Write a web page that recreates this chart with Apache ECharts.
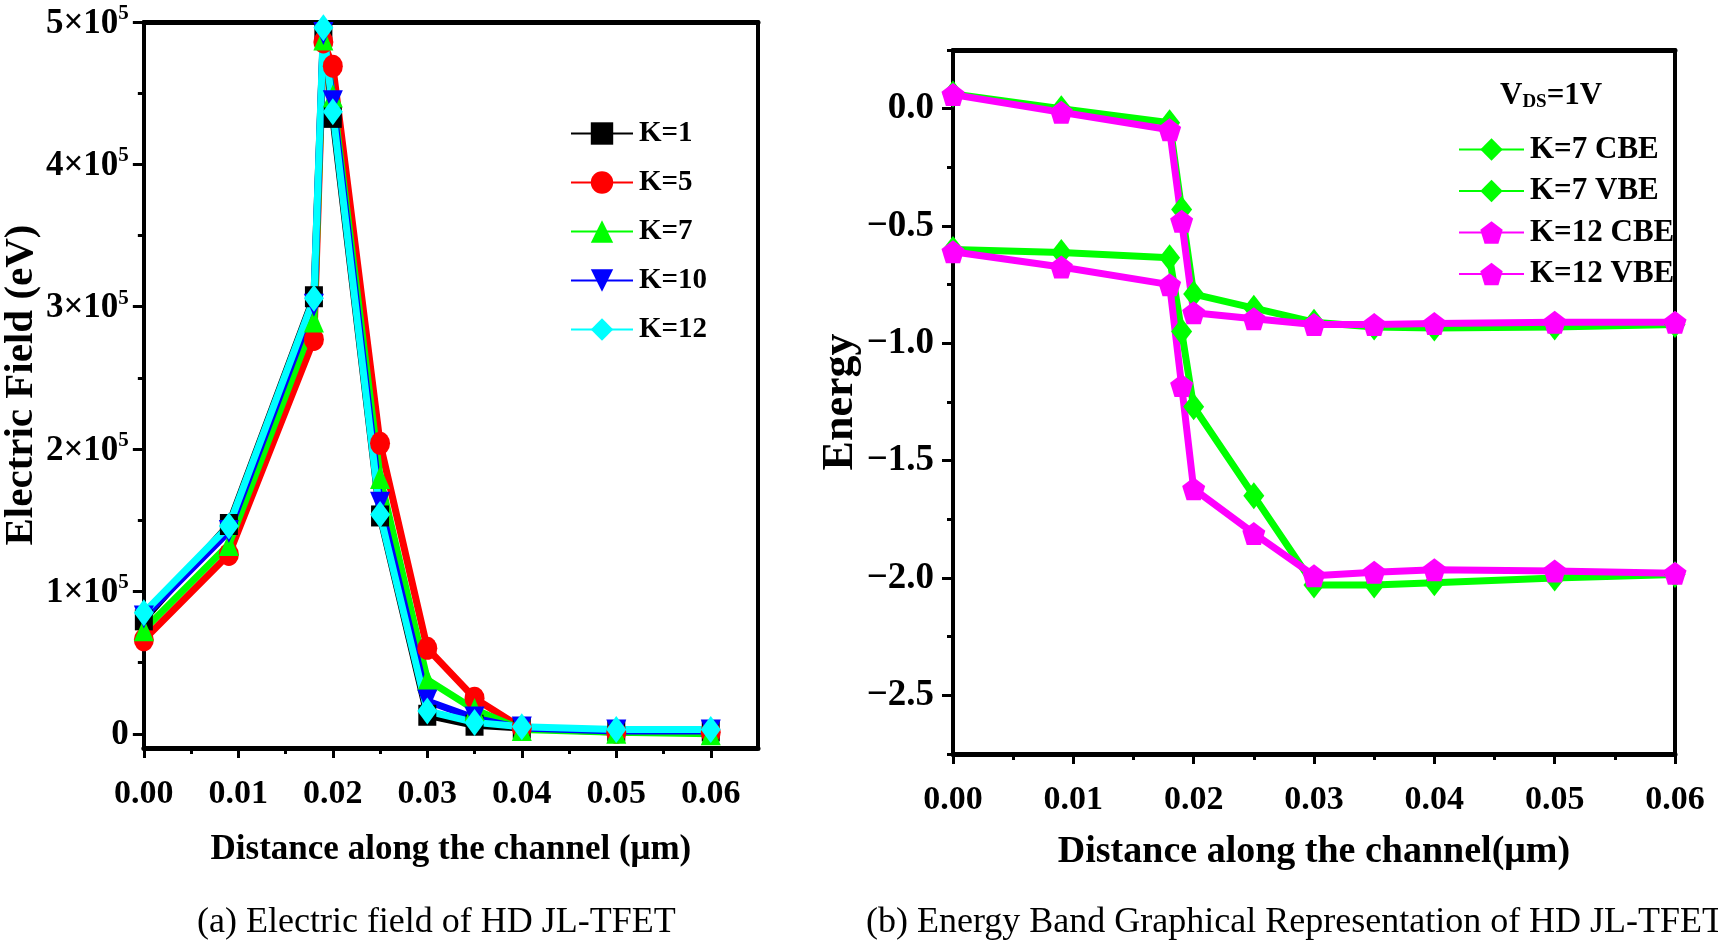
<!DOCTYPE html>
<html>
<head>
<meta charset="utf-8">
<script src="https://cdn.jsdelivr.net/npm/echarts@6/dist/echarts.min.js"></script>
<style>
html,body{margin:0;padding:0;background:#fff;}
#chart{width:1718px;height:944px;}
</style>
</head>
<body>
<div id="chart"></div>
<script>
// ---------- DATA ----------
const distance = [0, 0.009, 0.018, 0.019, 0.02, 0.025, 0.03, 0.035, 0.04, 0.05, 0.06];

// Panel (a): electric field (units of 1e5)
const fieldK1  = [0.80, 1.47, 3.07, 4.93, 4.33, 1.53, 0.13, 0.06, 0.04, 0.02, 0.02];
const fieldK5  = [0.66, 1.26, 2.77, 4.86, 4.69, 2.04, 0.60, 0.25, 0.04, 0.01, 0.01];
const fieldK7  = [0.73, 1.33, 2.90, 4.88, 4.48, 1.80, 0.38, 0.17, 0.03, 0.01, 0.00];
const fieldK10 = [0.82, 1.42, 3.01, 4.92, 4.44, 1.62, 0.23, 0.11, 0.04, 0.02, 0.02];
const fieldK12 = [0.85, 1.46, 3.06, 4.96, 4.37, 1.54, 0.16, 0.08, 0.05, 0.03, 0.03];
const fieldScale = 1e5;

// Panel (b): energy bands
const cbeK7  = [0.063, 0.000, -0.060, -0.43, -0.79, -0.85, -0.91, -0.93, -0.935, -0.93, -0.92];
const vbeK7  = [-0.600, -0.613, -0.635, -0.95, -1.27, -1.65, -2.03, -2.03, -2.02, -2.00, -1.985];
const cbeK12 = [0.060, -0.015, -0.090, -0.48, -0.87, -0.895, -0.92, -0.92, -0.915, -0.91, -0.91];
const vbeK12 = [-0.610, -0.675, -0.750, -1.18, -1.62, -1.81, -1.99, -1.975, -1.965, -1.97, -1.98];

// Tick values
const xTicksA = [0, 0.01, 0.02, 0.03, 0.04, 0.05, 0.06];
const xMinorA = [0.005, 0.015, 0.025, 0.035, 0.045, 0.055];
const yTicksA = [0, 100000, 200000, 300000, 400000, 500000];
const yMinorA = [50000, 150000, 250000, 350000, 450000];
const yTicksB = [-2.5, -2.0, -1.5, -1.0, -0.5, 0.0];
const yMinorB = [-2.75, -2.25, -1.75, -1.25, -0.75, -0.25, 0.25];

const legendA = ['K=1', 'K=5', 'K=7', 'K=10', 'K=12'];
const legendB = ['K=7 CBE', 'K=7 VBE', 'K=12 CBE', 'K=12 VBE'];

// ---------- BUILD ----------
const FONT = '"Liberation Serif", "Times New Roman", serif';
const zip = (xs, ys, s) => xs.map((x, i) => [x, ys[i] * (s || 1)]);
const pentagon = 'path://M0,-10 L9.51,-3.09 L5.88,8.09 L-5.88,8.09 L-9.51,-3.09 Z';

const chart = echarts.init(document.getElementById('chart'), null, {renderer: 'canvas'});

const option = {
  animation: false,
  backgroundColor: '#fff',
  title: [
    {text: '(a) Electric field of HD JL-TFET', left: 197, top: 905, padding: 0,
     textStyle: {fontFamily: FONT, fontWeight: 'normal', fontSize: 36, color: '#000'}},
    {text: '(b) Energy Band Graphical Representation of HD JL-TFET', left: 866, top: 905, padding: 0,
     textStyle: {fontFamily: FONT, fontWeight: 'normal', fontSize: 36, color: '#000'}},
    {text: '{v|V}{s|DS}{v|=1V}', left: 1500, top: 80, padding: 0,
     textStyle: {rich: {
       v: {fontFamily: FONT, fontWeight: 'bold', fontSize: 31, lineHeight: 32, verticalAlign: 'top', color: '#000'},
       s: {fontFamily: FONT, fontWeight: 'bold', fontSize: 19, lineHeight: 20, verticalAlign: 'bottom', padding: [14, 0, 0, 0], color: '#000'}
     }}}
  ],
  legend: [
    {data: legendA, orient: 'vertical', left: 570, top: 119, padding: 0, itemWidth: 62, itemHeight: 28, itemGap: 20,
     textStyle: {fontFamily: FONT, fontWeight: 'bold', fontSize: 29, lineHeight: 28, color: '#000', padding: [0,0,0,1]}},
    {data: legendB, orient: 'vertical', left: 1458, top: 134, padding: 0, itemWidth: 65, itemHeight: 28, itemGap: 10.5,
     textStyle: {fontFamily: FONT, fontWeight: 'bold', fontSize: 31, lineHeight: 28, color: '#000', padding: [0,0,0,1]}}
  ],
  grid: [
    {left: 133, top: 22, width: 625, height: 726},
    {left: 953, top: 50, width: 722, height: 704}
  ],
  xAxis: [
    {gridIndex: 0, type: 'value', min: 0, max: 0.065, position: 'bottom',
     axisLine: {show: true, onZero: false, lineStyle: {color: '#000', width: 5}}, splitLine: {show: false},
     axisTick: {show: true, customValues: xTicksA, length: 10, lineStyle: {color: '#000', width: 3}},
     axisLabel: {show: true, customValues: xTicksA, margin: 29, formatter: v => v.toFixed(2),
       fontFamily: FONT, fontWeight: 'bold', fontSize: 34, color: '#000'},
     name: 'Distance along the channel (μm)', nameLocation: 'middle', nameGap: 84,
     nameTextStyle: {fontFamily: FONT, fontWeight: 'bold', fontSize: 35, color: '#000'}},
    {gridIndex: 0, type: 'value', min: 0, max: 0.065, position: 'bottom',
     axisLine: {show: false, onZero: false}, splitLine: {show: false},
     axisTick: {show: true, customValues: xMinorA, length: 6, lineStyle: {color: '#000', width: 3}},
     axisLabel: {show: false}},
    {gridIndex: 0, type: 'value', min: 0, max: 0.065, position: 'top',
     axisLine: {show: true, onZero: false, lineStyle: {color: '#000', width: 5}}, splitLine: {show: false},
     axisTick: {show: false}, axisLabel: {show: false}},
    {gridIndex: 1, type: 'value', min: 0, max: 0.06, interval: 0.01, position: 'bottom',
     axisLine: {show: true, onZero: false, lineStyle: {color: '#000', width: 5}}, splitLine: {show: false},
     axisTick: {show: true, length: 10, lineStyle: {color: '#000', width: 3}},
     minorTick: {show: true, splitNumber: 2, length: 6, lineStyle: {color: '#000', width: 3}},
     axisLabel: {show: true, margin: 29, formatter: v => v.toFixed(2),
       fontFamily: FONT, fontWeight: 'bold', fontSize: 34, color: '#000'},
     name: 'Distance along the channel(μm)', nameLocation: 'middle', nameGap: 79,
     nameTextStyle: {fontFamily: FONT, fontWeight: 'bold', fontSize: 38, color: '#000'}},
    {gridIndex: 1, type: 'value', min: 0, max: 0.06, position: 'top',
     axisLine: {show: true, onZero: false, lineStyle: {color: '#000', width: 5}}, splitLine: {show: false},
     axisTick: {show: false}, axisLabel: {show: false}}
  ],
  yAxis: [
    {gridIndex: 0, type: 'value', min: -10000, max: 500000, position: 'left',
     axisLine: {show: true, onZero: false, lineStyle: {color: '#000', width: 4}}, splitLine: {show: false},
     axisTick: {show: true, customValues: yTicksA, length: 11, lineStyle: {color: '#000', width: 3}},
     axisLabel: {show: true, customValues: yTicksA, margin: 15,
       formatter: v => v === 0 ? '{b|0}' : '{b|' + Math.round(v / 1e5) + '×10}{sup|5}',
       rich: {
         b: {fontFamily: FONT, fontWeight: 'bold', fontSize: 35, lineHeight: 38, verticalAlign: 'bottom', color: '#000'},
         sup: {fontFamily: FONT, fontWeight: 'bold', fontSize: 21, lineHeight: 21, verticalAlign: 'top', color: '#000'}
       }},
     name: 'Electric Field (eV)', nameLocation: 'middle', nameGap: 91,
     nameTextStyle: {fontFamily: FONT, fontWeight: 'bold', fontSize: 41, color: '#000'}},
    {gridIndex: 0, type: 'value', min: -10000, max: 500000, position: 'left',
     axisLine: {show: false, onZero: false}, splitLine: {show: false},
     axisTick: {show: true, customValues: yMinorA, length: 6, lineStyle: {color: '#000', width: 3}},
     axisLabel: {show: false}},
    {gridIndex: 0, type: 'value', min: -10000, max: 500000, position: 'right',
     axisLine: {show: true, onZero: false, lineStyle: {color: '#000', width: 4}}, splitLine: {show: false},
     axisTick: {show: false}, axisLabel: {show: false}},
    {gridIndex: 1, type: 'value', min: -2.75, max: 0.25, position: 'left',
     axisLine: {show: true, onZero: false, lineStyle: {color: '#000', width: 4}}, splitLine: {show: false},
     axisTick: {show: true, customValues: yTicksB, length: 11, lineStyle: {color: '#000', width: 3}},
     axisLabel: {show: true, customValues: yTicksB, margin: 19,
       formatter: v => (v < 0 ? '\u2212' : '') + Math.abs(v).toFixed(1),
       fontFamily: FONT, fontWeight: 'bold', fontSize: 37, color: '#000'},
     name: 'Energy', nameLocation: 'middle', nameGap: 87,
     nameTextStyle: {fontFamily: FONT, fontWeight: 'bold', fontSize: 44, color: '#000'}},
    {gridIndex: 1, type: 'value', min: -2.75, max: 0.25, position: 'left',
     axisLine: {show: false, onZero: false}, splitLine: {show: false},
     axisTick: {show: true, customValues: yMinorB, length: 6, lineStyle: {color: '#000', width: 3}},
     axisLabel: {show: false}},
    {gridIndex: 1, type: 'value', min: -2.75, max: 0.25, position: 'right',
     axisLine: {show: true, onZero: false, lineStyle: {color: '#000', width: 4}}, splitLine: {show: false},
     axisTick: {show: false}, axisLabel: {show: false}}
  ],
  series: []
};

function addSeries(name, data, color, symbol, size, xi, yi, extra) {
  option.series.push(Object.assign({
    name: name, type: 'line', xAxisIndex: xi, yAxisIndex: yi, data: data,
    symbol: symbol, symbolSize: size, showSymbol: true,
    lineStyle: {color: color, width: 7},
    itemStyle: {color: color},
    clip: false
  }, extra || {}));
}

addSeries('K=1',  zip(distance, fieldK1,  fieldScale), '#000000', 'rect', [18, 21], 0, 0);
addSeries('K=5',  zip(distance, fieldK5,  fieldScale), '#ff0000', 'circle', [20, 23], 0, 0);
addSeries('K=7',  zip(distance, fieldK7,  fieldScale), '#00ff00', 'triangle', [20, 23], 0, 0);
addSeries('K=10', zip(distance, fieldK10, fieldScale), '#0000ff', 'triangle', [20, 23], 0, 0, {symbolRotate: 180});
addSeries('K=12', zip(distance, fieldK12, fieldScale), '#00ffff', 'diamond', [20, 27], 0, 0);

addSeries('K=7 CBE',  zip(distance, cbeK7),  '#00ff00', 'diamond', [21, 27], 3, 3);
addSeries('K=7 VBE',  zip(distance, vbeK7),  '#00ff00', 'diamond', [21, 27], 3, 3);
addSeries('K=12 CBE', zip(distance, cbeK12), '#ff00ff', pentagon, [23, 23], 3, 3);
addSeries('K=12 VBE', zip(distance, vbeK12), '#ff00ff', pentagon, [23, 23], 3, 3);

chart.setOption(option);
</script>
</body>
</html>
